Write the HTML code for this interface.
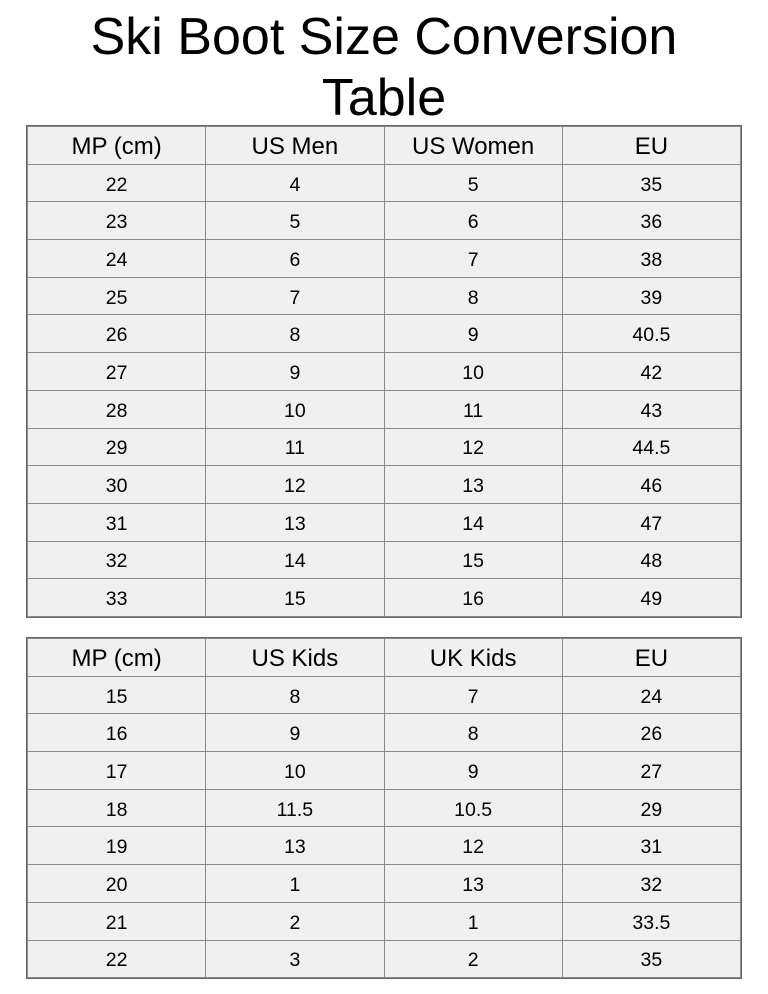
<!DOCTYPE html>
<html><head><meta charset="utf-8"><style>
body{margin:0;width:768px;height:994px;background:#fff;font-family:"Liberation Sans",Arial,sans-serif;position:relative;overflow:hidden}
.t{position:absolute;left:0;width:768px;text-align:center;font-size:52px;color:#000;line-height:60px}
table{position:absolute;left:27px;width:714px;border-collapse:collapse;table-layout:fixed;background:#f0f0f0}
td{border:1px solid #8a8a8a;text-align:center;height:33.7px;padding:3px 0 0 0;font-size:19.5px;color:#000;vertical-align:middle;line-height:22px}
tr:first-child td{font-size:24px;line-height:26px}
table{outline:1px solid #666}
</style></head><body>
<div class="t" style="top:7px">Ski Boot Size Conversion</div>
<div class="t" style="top:68px">Table</div>
<table style="top:126px">
<tr><td>MP (cm)</td><td>US Men</td><td>US Women</td><td>EU</td></tr>
<tr><td>22</td><td>4</td><td>5</td><td>35</td></tr>
<tr><td>23</td><td>5</td><td>6</td><td>36</td></tr>
<tr><td>24</td><td>6</td><td>7</td><td>38</td></tr>
<tr><td>25</td><td>7</td><td>8</td><td>39</td></tr>
<tr><td>26</td><td>8</td><td>9</td><td>40.5</td></tr>
<tr><td>27</td><td>9</td><td>10</td><td>42</td></tr>
<tr><td>28</td><td>10</td><td>11</td><td>43</td></tr>
<tr><td>29</td><td>11</td><td>12</td><td>44.5</td></tr>
<tr><td>30</td><td>12</td><td>13</td><td>46</td></tr>
<tr><td>31</td><td>13</td><td>14</td><td>47</td></tr>
<tr><td>32</td><td>14</td><td>15</td><td>48</td></tr>
<tr><td>33</td><td>15</td><td>16</td><td>49</td></tr>
</table>
<table style="top:638px">
<tr><td>MP (cm)</td><td>US Kids</td><td>UK Kids</td><td>EU</td></tr>
<tr><td>15</td><td>8</td><td>7</td><td>24</td></tr>
<tr><td>16</td><td>9</td><td>8</td><td>26</td></tr>
<tr><td>17</td><td>10</td><td>9</td><td>27</td></tr>
<tr><td>18</td><td>11.5</td><td>10.5</td><td>29</td></tr>
<tr><td>19</td><td>13</td><td>12</td><td>31</td></tr>
<tr><td>20</td><td>1</td><td>13</td><td>32</td></tr>
<tr><td>21</td><td>2</td><td>1</td><td>33.5</td></tr>
<tr><td>22</td><td>3</td><td>2</td><td>35</td></tr>
</table>
</body></html>
